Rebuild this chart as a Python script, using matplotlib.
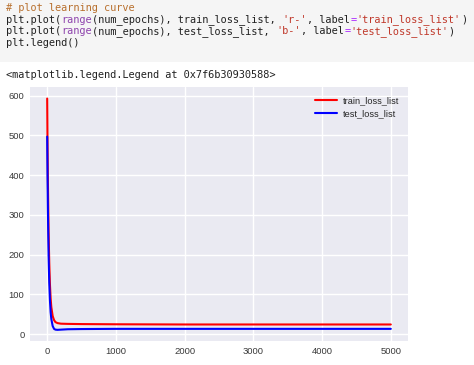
import matplotlib
matplotlib.use('Agg')
import matplotlib.pyplot as plt
from matplotlib.patches import Rectangle

# valores (epoca, loss)
epochs = [0, 5, 10, 20, 30, 40, 50, 60, 80, 100, 120, 150, 200, 300, 500,
          1000, 2000, 3000, 4000, 4999]
train_loss_list = [593, 480, 390, 260, 180, 125, 90, 68, 45, 35, 30, 27.5, 26,
                   25.5, 25, 24.5, 24, 24, 24, 24]
test_loss_list = [497, 400, 320, 200, 130, 85, 55, 38, 20, 13, 11, 10.5, 11,
                  12, 12.5, 13, 13, 13, 13, 13]

x_ticks = [0, 1000, 2000, 3000, 4000, 5000]
y_ticks = [0, 100, 200, 300, 400, 500, 600]

# linhas de codigo da celula: lista de (texto, cor)
c_txt = '#222222'
c_com = '#b8702e'
c_blt = '#8e44ad'
c_str = '#c0392b'
c_op = '#aa22ff'
code_lines = [
    [('# plot learning curve', c_com)],
    [('plt.plot(', c_txt), ('range', c_blt), ('(num_epochs), train_loss_list, ', c_txt),
     ("'r-'", c_str), (', label', c_txt), ('=', c_op), ("'train_loss_list'", c_str), (')', c_txt)],
    [('plt.plot(', c_txt), ('range', c_blt), ('(num_epochs), test_loss_list, ', c_txt),
     ("'b-'", c_str), (', label', c_txt), ('=', c_op), ("'test_loss_list'", c_str), (')', c_txt)],
    [('plt.legend()', c_txt)],
]
out_line = '<matplotlib.legend.Legend at 0x7f6b30930588>'

plt.style.use('seaborn-v0_8')
W, H = 474, 365
fig = plt.figure(figsize=(W / 100, H / 100), dpi=100)
fig.patch.set_facecolor('white')

# fundo da celula de codigo
fig.patches.append(Rectangle((0, 1 - 62 / H), 1, 62 / H, transform=fig.transFigure,
                             facecolor='#f5f5f5', edgecolor='none', zorder=0))

cw = 6.15
mono = 'DejaVu Sans Mono'
for i, segs in enumerate(code_lines):
    y = 1 - (8 + i * 11.7) / H
    col = 0
    for txt, color in segs:
        fig.text((6 + col * cw) / W, y, txt, family=mono, fontsize=7.4,
                 color=color, va='center', ha='left')
        col += len(txt)
fig.text(6 / W, 1 - 75 / H, out_line, family=mono, fontsize=7.4,
         color='#222222', va='center', ha='left')

ax = fig.add_axes([30 / W, (H - 341) / H, 378 / W, (341 - 87) / H])
ax.plot(epochs, train_loss_list, 'r-', label='train_loss_list', lw=1.5)
ax.plot(epochs, test_loss_list, 'b-', label='test_loss_list', lw=1.5)
ax.set_xlim(-250, 5249)
ax.set_ylim(-17.6, 622)
ax.set_xticks(x_ticks)
ax.set_yticks(y_ticks)
ax.tick_params(labelsize=6.8, labelcolor='#3a3a3a', pad=4)
for lab in ax.get_xticklabels() + ax.get_yticklabels():
    lab.set_family('Liberation Sans')
ax.legend(loc='upper right', frameon=False, handlelength=2.4, handletextpad=0.6,
          labelspacing=0.4, borderaxespad=0.6,
          prop={'family': 'Liberation Sans', 'size': 6.6})

fig.savefig('out.png', dpi=100)
